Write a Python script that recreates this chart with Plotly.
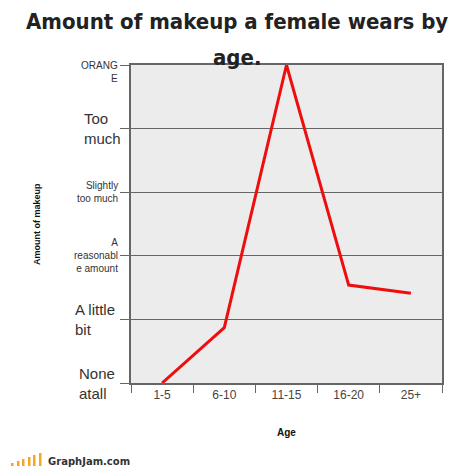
import plotly.graph_objects as go

# Data
age_groups = ["1-5", "6-10", "11-15", "16-20", "25+"]
makeup_level = [0.0, 0.87, 5.0, 1.54, 1.41]
level_values = [0, 1, 2, 3, 4, 5]
level_labels = ["None<br>atall", "A little<br>bit", "A<br>reasonabl<br>e amount",
                "Slightly<br>too much", "Too<br>much", "ORANG<br>E"]
title_lines = ["Amount of makeup a female wears by", "age."]

TITLE_FONT = "'DejaVu Sans Condensed', 'Liberation Sans Narrow', sans-serif"
TEXT_FONT = "'Liberation Sans', Arial, sans-serif"

W, H = 311.0, 318.0   # plot area in pixels
def px(xp):
    return (xp - 131) / W
def py(yp):
    return (383 - yp) / H

fig = go.Figure()
fig.add_trace(go.Scatter(
    x=age_groups, y=makeup_level, mode="lines",
    line=dict(color="#ee0e0e", width=3), hoverinfo="skip", cliponaxis=False,
))

# y label styles: (font size, x anchor, x shift, align, y shift)
label_styles = [
    (15, "left", -54, "left", 0),
    (15, "left", -58, "left", 0),
    (10, "right", -11, "right", 0),
    (10, "right", -11, "right", 0),
    (15, "left", -49, "left", 0),
    (10, "right", -11, "right", -7),
]
annotations = []
for v, lab, st in zip(level_values, level_labels, label_styles):
    size, xa, xs, al, ys = st
    annotations.append(dict(
        x=0, xref="paper", y=v, yref="y", text=lab, showarrow=False,
        xanchor=xa, xshift=xs, align=al, yanchor="middle", yshift=ys,
        font=dict(family=TEXT_FONT, size=size, color="#333333"),
    ))

# title lines
for t, yc in zip(title_lines, [22, 58]):
    annotations.append(dict(
        text=f"<b>{t}</b>", x=px(237), xref="paper", y=py(yc), yref="paper",
        xanchor="center", yanchor="middle", showarrow=False,
        font=dict(family=TITLE_FONT, size=22, color="#222222"),
    ))

annotations += [
    dict(text="<b>Amount of makeup</b>", x=0, xref="paper", y=0.5, yref="paper",
         xshift=-101, textangle=-90, showarrow=False,
         font=dict(family=TEXT_FONT, size=9, color="#111111")),
    dict(text="<b>Age</b>", x=0.5, xref="paper", y=py(432), yref="paper",
         showarrow=False, yanchor="middle",
         font=dict(family=TEXT_FONT, size=10, color="#111111")),
    dict(text="<b>GraphJam.com</b>", x=px(46), xref="paper", y=py(461), yref="paper",
         showarrow=False, xanchor="left", yanchor="middle",
         font=dict(family="Verdana, 'DejaVu Sans', sans-serif", size=10, color="#333333")),
]

# logo bars (decoration)
shapes = []
bars = [(11, 463), (17, 461), (22, 459), (28, 457), (33, 455), (39, 453)]
for bx, top in bars:
    shapes.append(dict(type="rect", xref="paper", yref="paper",
                       x0=px(bx), x1=px(bx + 2.5), y0=py(466), y1=py(top),
                       fillcolor="#f5a623", line=dict(width=0), layer="above"))

fig.update_layout(
    width=474, height=467,
    margin=dict(l=131, r=32, t=65, b=84),
    paper_bgcolor="white", plot_bgcolor="#ececec",
    showlegend=False,
    annotations=annotations,
    shapes=shapes,
)
fig.update_xaxes(
    type="category", tickson="boundaries", ticks="outside", ticklen=8,
    tickcolor="#666666", showline=True, linecolor="#666666", linewidth=1.5,
    mirror=True, showgrid=False,
    tickfont=dict(family=TEXT_FONT, size=12, color="#444444"),
    range=[-0.5, 4.5],
)
fig.update_yaxes(
    range=[0, 5], tickvals=level_values, showticklabels=False,
    ticks="outside", ticklen=9, tickcolor="#666666",
    showgrid=True, gridcolor="#666666", gridwidth=1,
    showline=True, linecolor="#666666", linewidth=1.5, mirror=True,
    zeroline=False,
)

fig.write_html("out.html", config={"displayModeBar": False},
               post_script="document.body.style.margin='0';document.body.style.padding='0';")
